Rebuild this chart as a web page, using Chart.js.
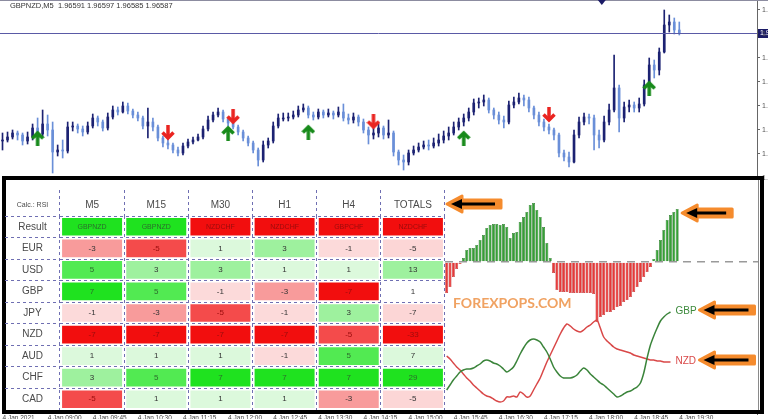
<!DOCTYPE html>
<html>
<head>
<meta charset="utf-8">
<title>GBPNZD M5 - currency strength</title>
<script src="https://cdn.jsdelivr.net/npm/chart.js@4.4.0/dist/chart.umd.min.js"></script>
<style>
  html, body { margin: 0; padding: 0; background: #fff; overflow: hidden; }
  body { position: relative; width: 768px; height: 419px; }
  canvas { position: absolute; }
  #priceChart { left: 0; top: 0; z-index: 0; }
  #panel { position: absolute; left: 2px; top: 176px; width: 762px; height: 238px; border: 4px solid #000; box-sizing: border-box; background: #fff; z-index: 1; }
  #tableChart { left: 5px; top: 183px; z-index: 2; }
  #strengthChart { left: 445px; top: 180px; z-index: 3; }
</style>
</head>
<body>
<canvas id="priceChart" width="768" height="419"></canvas>
<div id="panel"></div>
<canvas id="tableChart" width="500" height="227"></canvas>
<canvas id="strengthChart" width="314" height="230"></canvas>
<script>
// ================= Price data (GBPNZD, M5) =================
// prices kept as points above PRICE_BASE (1 point = 0.00001)
const PRICE_BASE = 1.96;
const closePts = [159,171,187,179,155,171,207,183,223,199, 111,119,115,211,215,203,191,215,247,231,
  207,251,279,271,295,275,259,247,215,231, 211,167,147,139,119,107,135,151,159,171,
  203,239,259,271,243,227,211,191,167,147, 119,79,139,155,215,247,247,251,259,279,
  287,259,251,271,259,267,259,271,247,239, 251,231,199,179,187,207,179,187,111,79,
  71,107,119,131,139,135,147,159,175,187, 211,231,247,271,307,311,319,279,259,239,
  231,299,311,327,319,287,259,231,211,199, 179,107,91,71,179,231,251,247,179,159,
  231,279,367,247,291,299,287,303,379,459, 439,511,619,631,599,587];
const highPts = [187,191,199,195,187,191,223,247,279,259, 231,139,159,231,231,223,215,231,263,255,
  239,267,295,291,311,307,283,271,255,287, 247,219,175,163,147,131,147,163,171,183,
  215,255,271,287,279,251,235,219,199,175, 155,127,155,167,231,263,267,267,275,295,
  303,295,271,283,279,283,275,291,303,263, 267,259,243,211,207,223,215,239,195,119,
  99,119,135,147,155,159,167,183,195,211, 231,247,263,287,323,327,339,327,287,271,
  255,315,331,347,339,331,295,271,243,223, 207,187,119,111,199,251,267,263,259,199,
  255,303,499,379,311,319,311,327,399,487, 479,527,679,659,647,631];
const lowPts = [119,151,163,159,139,143,159,139,171,175, 27,95,87,107,195,187,175,183,207,215,
  195,199,243,259,267,263,247,235,203,167, 195,155,131,123,107,95,99,127,143,155,
  163,195,231,251,231,215,203,179,155,135, 107,55,71,127,147,207,235,235,243,251,
  271,247,239,243,247,251,243,251,235,223, 227,215,187,143,163,171,163,167,95,59,
  39,59,99,111,123,119,127,135,147,159, 179,199,215,235,259,287,295,267,243,223,
  207,223,287,303,295,271,243,215,195,183, 159,91,75,51,67,167,219,223,119,127,
  151,219,271,191,231,271,271,271,295,367, 407,419,507,591,583,579];
const timeLabels = ['4 Jan 2021','4 Jan 09:00','4 Jan 09:45','4 Jan 10:30','4 Jan 11:15','4 Jan 12:00',
  '4 Jan 12:45','4 Jan 13:30','4 Jan 14:15','4 Jan 15:00','4 Jan 15:45','4 Jan 16:30',
  '4 Jan 17:15','4 Jan 18:00','4 Jan 18:45','4 Jan 19:30'];
const priceTicks = [680, 584, 488, 392, 296, 200, 104, 8];
const buyIdx = [7, 45, 61, 92, 129];
const buyPts = [167, 187, 191, 167, 367];
const sellIdx = [33, 46, 74, 109];
const sellPts = [187, 251, 231, 259];
const headerText = 'GBPNZD,M5  1.96591 1.96597 1.96585 1.96587';

// ================= Strength table =================
const tfLabels = ['M5', 'M15', 'M30', 'H1', 'H4', 'TOTALS'];
const currencies = ['EUR', 'USD', 'GBP', 'JPY', 'NZD', 'AUD', 'CHF', 'CAD'];
const resultPairs = ['GBPNZD', 'GBPNZD', 'NZDCHF', 'NZDCHF', 'GBPCHF', 'NZDCHF'];
const eurVals = [-3, -5, 1, 3, -1, -5];
const usdVals = [5, 3, 3, 1, 1, 13];
const gbpVals = [7, 5, -1, -3, -7, 1];
const jpyVals = [-1, -3, -5, -1, 3, -7];
const nzdVals = [-7, -7, -7, -7, -5, -33];
const audVals = [1, 1, 1, -1, 5, 7];
const chfVals = [3, 5, 7, 7, 7, 29];
const cadVals = [-5, 1, 1, 1, -3, -5];

// ================= Strength histogram and lines =================
const histVals = [-31, -25, -15, -7, -2,
  4, 12, 14, 14, 17, 22, 27, 34, 37, 38, 38, 37, 38, 35, 24, 29, 30, 40, 45, 50, 57, 59, 52, 45, 35, 19, 4,
  -11, -28, -30, -30, -30, -31, -31, -31, -31, -31, -31, -31, -32, -60, -55, -53, -50, -50, -48, -45, -44,
  -40, -38, -35, -30, -25, -20, -15, -10, -5,
  3, 12, 22, 32, 42, 47, 50, 53];
const gbpLine = [20,25,30,34,38,40,41,41,42,44, 46,49,50,49,47,46,44,41,38,40, 43,49,56,62,67,70,71,70,68,63,
  58,51,43,38,34,32,32,32,33,35, 39,42,40,36,33,30,27,25,22,19, 16,13,14,16,18,19,21,23,27,37,
  52,65,74,82,89,93,96,98];
const nzdLine = [54,51,47,43,40,36,32,29,25,22, 19,16,14,13,11,9,8,9,13,13, 14,13,18,16,13,14,20,26,32,40,
  48,55,62,69,76,82,86,84,81,79, 78,80,83,85,88,90,82,73,69,66, 63,61,60,59,58,57,55,54,53,52,
  51,50,50,49,49,48,48,48];

Chart.defaults.animation = false;
Chart.defaults.font.family = '"Liberation Sans", Arial, sans-serif';

const BULL = '#1c2272';
const BEAR = '#6a8fd8';
const GRID = '#6f6fb2';
const ORANGE = '#f58b2d';

function arrowIcon(color, up) {
  const c = document.createElement('canvas');
  c.width = 14; c.height = 16;
  const g = c.getContext('2d');
  if (!up) { g.translate(0, 16); g.scale(1, -1); }
  g.strokeStyle = color;
  g.lineWidth = 3.5;
  g.beginPath(); g.moveTo(7, 3); g.lineTo(7, 16); g.stroke();
  g.beginPath(); g.moveTo(1.5, 8.5); g.lineTo(7, 3); g.lineTo(12.5, 8.5); g.stroke();
  return c;
}

// orange outlined arrow pointing left, tip at (tipX, y)
function drawCallout(ctx, tipX, y, len) {
  ctx.save();
  ctx.fillStyle = ORANGE; ctx.strokeStyle = ORANGE;
  ctx.lineWidth = 3; ctx.lineJoin = 'round';
  ctx.beginPath();
  ctx.moveTo(tipX, y);
  ctx.lineTo(tipX + 15, y - 8);
  ctx.lineTo(tipX + 15, y - 4);
  ctx.lineTo(tipX + len, y - 4);
  ctx.lineTo(tipX + len, y + 4);
  ctx.lineTo(tipX + 15, y + 4);
  ctx.lineTo(tipX + 15, y + 8);
  ctx.closePath(); ctx.fill(); ctx.stroke();
  ctx.fillStyle = '#000';
  ctx.beginPath();
  ctx.moveTo(tipX + 4, y); ctx.lineTo(tipX + 15, y - 5); ctx.lineTo(tipX + 15, y + 5);
  ctx.closePath(); ctx.fill();
  ctx.fillRect(tipX + 14, y - 1.5, len - 20, 3);
  ctx.restore();
}

// ================= Price chart =================
const openPts = closePts.map((c, i) => i === 0 ? c : closePts[i - 1]);
const candleColors = closePts.map((c, i) => c >= openPts[i] ? BULL : BEAR);
const candleSlots = Array.from({ length: 151 }, (_, i) => i);

const priceDecor = {
  id: 'priceDecor',
  afterDatasetsDraw(chart) {
    const { ctx, chartArea, scales: { y } } = chart;
    ctx.save();
    ctx.strokeStyle = '#8c8ca0'; ctx.lineWidth = 1;
    ctx.beginPath(); ctx.moveTo(0, 0.5); ctx.lineTo(chart.width, 0.5); ctx.stroke();
    const last = closePts[closePts.length - 1];
    const py = Math.round(y.getPixelForValue(last)) + 0.5;
    ctx.strokeStyle = '#5a5aa6';
    ctx.beginPath(); ctx.moveTo(chartArea.left, py); ctx.lineTo(chartArea.right, py); ctx.stroke();
    ctx.fillStyle = '#1b1b66';
    ctx.fillRect(chartArea.right + 1, py - 4.5, 20, 9);
    ctx.font = '7px "Liberation Sans", Arial, sans-serif';
    ctx.textBaseline = 'middle';
    ctx.fillStyle = '#fff';
    ctx.fillText((PRICE_BASE + last / 1e5).toFixed(5), chartArea.right + 3, py);
    ctx.fillStyle = '#555';
    y.ticks.forEach(t => {
      ctx.fillText((PRICE_BASE + t.value / 1e5).toFixed(5), chartArea.right + 5, y.getPixelForValue(t.value));
    });
    ctx.fillStyle = '#333';
    ctx.font = '7.5px "Liberation Sans", Arial, sans-serif';
    ctx.fillText(headerText, chartArea.left + 10, 6);
    const sx = chartArea.left + chartArea.width * 0.795;
    ctx.fillStyle = '#1b1b66';
    ctx.beginPath(); ctx.moveTo(sx - 4, 0); ctx.lineTo(sx + 4, 0); ctx.lineTo(sx, 5); ctx.closePath(); ctx.fill();
    ctx.restore();
  }
};

new Chart(document.getElementById('priceChart'), {
  type: 'bar',
  data: {
    labels: candleSlots,
    datasets: [
      {
        type: 'line', label: 'buy',
        data: buyIdx.map((i, k) => ({ x: i, y: buyPts[k] })),
        showLine: false, pointStyle: arrowIcon('#178a1a', true)
      },
      {
        type: 'line', label: 'sell',
        data: sellIdx.map((i, k) => ({ x: i, y: sellPts[k] })),
        showLine: false, pointStyle: arrowIcon('#ea2420', false)
      },
      {
        label: 'body',
        data: closePts.map((c, i) => [openPts[i], c]),
        backgroundColor: candleColors,
        barThickness: 2, minBarLength: 1, grouped: false
      },
      {
        label: 'wick',
        data: lowPts.map((l, i) => [l, highPts[i]]),
        backgroundColor: candleColors,
        barThickness: 1, grouped: false
      }
    ]
  },
  options: {
    responsive: false,
    layout: { padding: 0, autoPadding: false },
    plugins: { legend: { display: false }, tooltip: { enabled: false } },
    scales: {
      x: {
        grid: { display: false, drawTicks: false },
        border: { display: false },
        ticks: {
          autoSkip: false, maxRotation: 0, minRotation: 0, align: 'start', padding: 0,
          color: '#444', font: { size: 6.5 },
          callback: (v, i) => (i % 9 === 0 && i / 9 < timeLabels.length) ? timeLabels[i / 9] : ''
        },
        afterFit: s => { s.height = 5; }
      },
      y: {
        position: 'right', min: -937, max: 719,
        afterBuildTicks: s => { s.ticks = priceTicks.map(v => ({ value: v })); },
        afterFit: s => { s.width = 11; },
        ticks: { display: false },
        grid: { drawOnChartArea: false, tickLength: 3, tickColor: '#666' },
        border: { color: '#666' }
      }
    }
  },
  plugins: [priceDecor]
});

// ================= Table chart =================
const tableRows = ['Result', ...currencies];
const rowVals = [eurVals, usdVals, gbpVals, jpyVals, nzdVals, audVals, chfVals, cadVals];
const byCode = {};
currencies.forEach((c, k) => { byCode[c] = rowVals[k]; });

function pairScore(j) {
  const p = resultPairs[j];
  return byCode[p.slice(0, 3)][j] - byCode[p.slice(3)][j];
}
function cellColor(v) {
  if (v >= 7) return '#1fe21f';
  if (v >= 5) return '#52ea52';
  if (v >= 3) return '#9ef19e';
  if (v >= 1) return '#dcf9dc';
  if (v <= -7) return '#f20e0e';
  if (v <= -5) return '#f44b4b';
  if (v <= -3) return '#f89b9b';
  return '#fcdada';
}
function totalColor(v) {
  if (v >= 20) return '#1fe21f';
  if (v >= 10) return '#9ef19e';
  if (v >= 5) return '#dcf9dc';
  if (v > -5) return '#ffffff';
  if (v > -20) return '#fcd6d6';
  return '#f20e0e';
}
function cellFill(r, j) {
  if (r === 0) return pairScore(j) > 0 ? '#1fe21f' : '#f20e0e';
  const v = rowVals[r - 1][j];
  return j === tfLabels.length - 1 ? totalColor(v) : cellColor(v);
}
function cellInk(fill) {
  if (fill === '#1fe21f' || fill === '#52ea52') return '#2c6e2c';
  if (fill === '#f20e0e' || fill === '#f44b4b') return '#9a0c0c';
  return '#333';
}

const tableText = {
  id: 'tableText',
  afterDatasetsDraw(chart) {
    const { ctx, chartArea, scales: { x, y } } = chart;
    const midY = (y.left + y.right) / 2;
    ctx.save();
    ctx.textAlign = 'center';
    ctx.textBaseline = 'middle';
    ctx.fillStyle = '#4a4a4a';
    ctx.font = '10px "Liberation Sans", Arial, sans-serif';
    tfLabels.forEach((t, j) => ctx.fillText(t, x.getPixelForValue(j), chartArea.top - 11));
    tableRows.forEach((n, r) => ctx.fillText(n, midY, y.getPixelForValue(r)));
    ctx.font = '7px "Liberation Sans", Arial, sans-serif';
    ctx.fillText('Calc.: RSI', midY, chartArea.top - 11);
    chart.data.datasets.forEach((ds, r) => {
      chart.getDatasetMeta(r).data.forEach((bar, j) => {
        const p = bar.getProps(['x', 'y', 'base'], true);
        const fill = ds.backgroundColor[j];
        ctx.fillStyle = cellInk(fill);
        ctx.font = (r === 0 ? '7px' : '8px') + ' "Liberation Sans", Arial, sans-serif';
        const txt = r === 0 ? resultPairs[j] : String(rowVals[r - 1][j]);
        ctx.fillText(txt, p.x, (p.y + p.base) / 2);
      });
    });
    drawCallout(ctx, x.right + 2, chartArea.top - 12, 54);
    ctx.restore();
  }
};

new Chart(document.getElementById('tableChart'), {
  type: 'bar',
  data: {
    labels: tfLabels,
    datasets: tableRows.map((name, r) => ({
      label: name,
      data: tfLabels.map(() => [r - 0.41, r + 0.41]),
      backgroundColor: tfLabels.map((tf, j) => cellFill(r, j)),
      grouped: false,
      barPercentage: 0.935,
      categoryPercentage: 1,
      borderWidth: 0
    }))
  },
  options: {
    responsive: false,
    layout: { padding: { right: 60 }, autoPadding: false },
    plugins: { legend: { display: false }, tooltip: { enabled: false } },
    scales: {
      x: {
        position: 'top',
        ticks: { display: false },
        grid: { color: GRID, tickColor: GRID, tickLength: 26, tickBorderDash: [3, 3], offset: true },
        border: { display: false, dash: [3, 3] },
        afterFit: s => { s.height = 33; }
      },
      y: {
        type: 'linear', reverse: true, min: -0.5, max: 8.5,
        afterBuildTicks: s => { s.ticks = [...tableRows, ''].map((_, k) => ({ value: k - 0.5 })); },
        afterFit: s => { s.width = 55; },
        ticks: { display: false },
        grid: { color: GRID, tickColor: GRID, tickLength: 55, tickBorderDash: [3, 3] },
        border: { display: false, dash: [3, 3] }
      }
    }
  },
  plugins: [tableText]
});

// ================= Strength histogram / lines =================
const strengthDecor = {
  id: 'strengthDecor',
  afterDatasetsDraw(chart) {
    const { ctx, chartArea } = chart;
    ctx.save();
    ctx.strokeStyle = '#8a8a8a'; ctx.lineWidth = 1;
    ctx.beginPath();
    ctx.moveTo(chartArea.right - 0.5, chartArea.top); ctx.lineTo(chartArea.right - 0.5, chartArea.bottom);
    ctx.stroke();
    ctx.font = 'bold 14px Lato, sans-serif';
    ctx.fillStyle = '#f0a262';
    ctx.textBaseline = 'alphabetic';
    ctx.fillText('FOREXPOPS.COM', chartArea.left + 8, chartArea.top + 128);
    [[0, 'GBP', '#3d8a3d'], [1, 'NZD', '#d94848']].forEach(([di, name, col]) => {
      const pts = chart.getDatasetMeta(di).data;
      const p = pts[pts.length - 1];
      ctx.font = '10px "Liberation Sans", Arial, sans-serif';
      ctx.fillStyle = col;
      ctx.textBaseline = 'middle';
      ctx.fillText(name, p.x + 5, p.y - 1);
      drawCallout(ctx, p.x + 29, p.y - 2, 55);
    });
    const bars = chart.getDatasetMeta(2).data;
    const lastBar = bars[bars.length - 1];
    drawCallout(ctx, lastBar.x + 5, lastBar.y + 4, 50);
    ctx.restore();
  }
};

new Chart(document.getElementById('strengthChart'), {
  type: 'bar',
  data: {
    labels: Array.from({ length: 94 }, (_, i) => i),
    datasets: [
      { type: 'line', label: 'GBP', data: gbpLine, yAxisID: 'y2', borderColor: '#3a843a', borderWidth: 1.5, pointRadius: 0, tension: 0.25 },
      { type: 'line', label: 'NZD', data: nzdLine, yAxisID: 'y2', borderColor: '#d94848', borderWidth: 1.5, pointRadius: 0, tension: 0.25 },
      {
        label: 'diff', data: histVals, yAxisID: 'y',
        backgroundColor: histVals.map(v => v >= 0 ? '#35a035' : '#e63838'),
        borderColor: histVals.map(v => v >= 0 ? '#1d6a1d' : '#b41c1c'),
        barPercentage: 0.88, categoryPercentage: 1, borderWidth: 0.6
      }
    ]
  },
  options: {
    responsive: false,
    layout: { padding: 0, autoPadding: false },
    plugins: { legend: { display: false }, tooltip: { enabled: false } },
    scales: {
      x: { display: false },
      y: {
        min: -148, max: 82,
        afterBuildTicks: s => { s.ticks = [{ value: 0 }]; },
        afterFit: s => { s.width = 0; },
        ticks: { display: false },
        grid: { color: '#9a9a9a', lineWidth: 1.5, drawTicks: false },
        border: { display: false, dash: [8, 6] }
      },
      y2: { display: false, min: 0, max: 230 }
    }
  },
  plugins: [strengthDecor]
});
</script>
</body>
</html>
